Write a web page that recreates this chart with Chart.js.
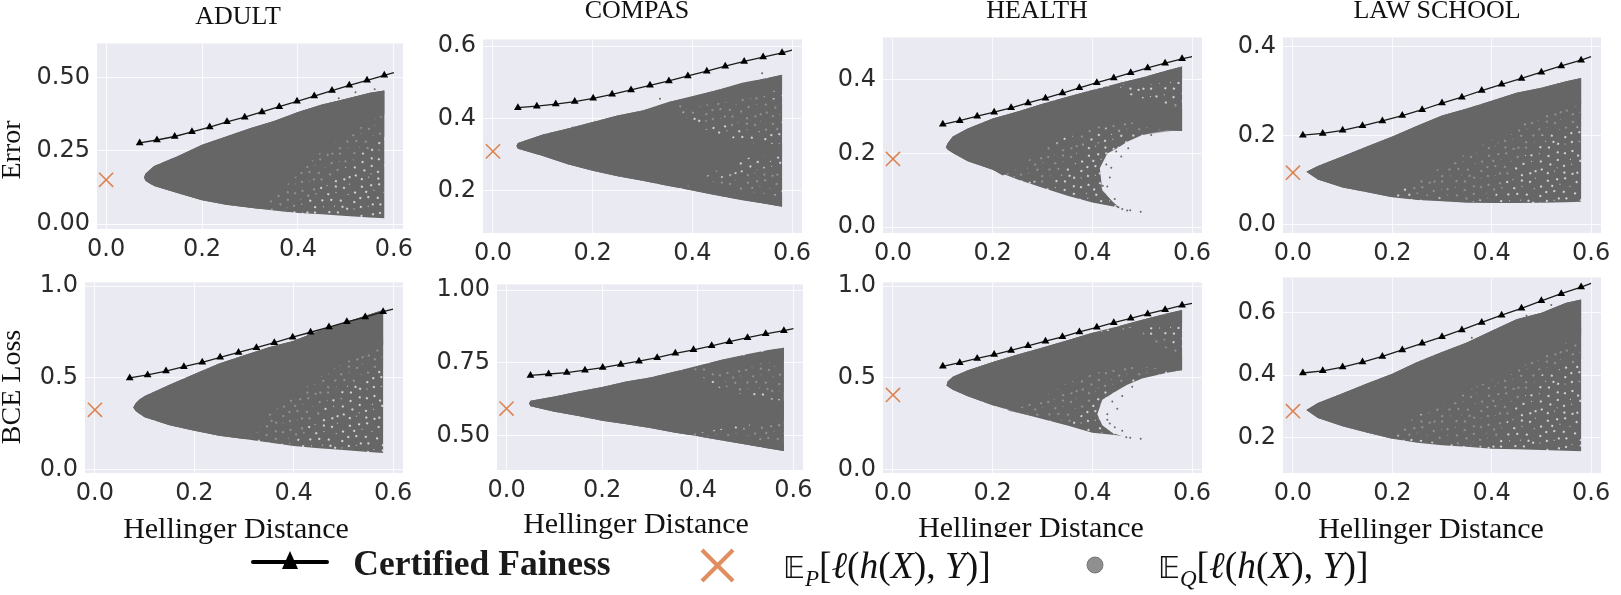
<!DOCTYPE html>
<html>
<head>
<meta charset="utf-8">
<script src="https://cdn.jsdelivr.net/npm/chart.js@4/dist/chart.umd.min.js"></script>
<style>
  html, body { margin: 0; padding: 0; background: #fff; }
  #page { position: relative; width: 1621px; height: 595px; overflow: hidden; }
  canvas { position: absolute; filter: blur(0.4px); }
  .txt { position: absolute; white-space: nowrap; font-family: "Liberation Serif", serif; color: #111; transform: translate(-50%, -50%); }
  .rot { transform: translate(-50%, -50%) rotate(-90deg); }
  .clip { transform: translateX(-50%); overflow: hidden; }
  .math { font-family: "Liberation Serif", serif; font-size: 37.5px; transform: translateY(-50%); color: #111; }
  .math i { font-style: italic; }
  .math sub { font-size: 23px; font-style: italic; line-height: 0; }
  .bb { font-family: "DejaVu Sans", sans-serif; font-size: 30px; }
  svg { position: absolute; overflow: visible; }
</style>
</head>
<body>
<div id="page"></div>
<script>
// Hellinger distance of the certified curve markers (last entry is the line end)
const adultCertX = [.07, .106, .143, .179, .216, .252, .289, .325, .361, .398, .434, .471, .507, .544, .58, .6];
const compasCertX = [.05, .088, .126, .164, .201, .239, .277, .315, .353, .391, .429, .466, .504, .542, .58, .6];
const healthCertX = [.1, .134, .169, .203, .237, .271, .306, .34, .374, .409, .443, .477, .511, .546, .58, .6];
const lawCertX = [.02, .06, .1, .14, .18, .22, .26, .3, .34, .38, .42, .46, .5, .54, .58, .6];

// Certified fairness bound, top row (Error)
const adultErrCert = [.277, .287, .299, .315, .331, .349, .365, .383, .401, .419, .437, .456, .474, .491, .508, .517];
const compasErrCert = [.43, .434, .44, .447, .456, .467, .479, .492, .504, .518, .531, .545, .558, .57, .582, .589];
const healthErrCert = [.279, .289, .301, .312, .324, .337, .35, .364, .378, .392, .405, .419, .432, .445, .457, .463];
const lawErrCert = [.201, .205, .212, .222, .233, .245, .258, .273, .286, .301, .315, .328, .342, .356, .369, .377];

// Certified fairness bound, bottom row (BCE Loss)
const adultBceCert = [.499, .515, .536, .56, .584, .611, .638, .664, .691, .721, .748, .776, .805, .831, .86, .874];
const compasBceCert = [.707, .712, .717, .725, .734, .745, .756, .768, .783, .795, .809, .823, .837, .85, .861, .868];
const healthBceCert = [.562, .582, .605, .626, .649, .674, .699, .723, .75, .775, .8, .824, .848, .871, .895, .906];
const lawBceCert = [.407, .414, .426, .442, .46, .481, .502, .523, .545, .569, .592, .614, .638, .661, .682, .694];

// E_P loss at distance 0 (the orange cross)
const crossValues = [.151, .309, .185, .117, .325, .593, .406, .285];

// Outline of each E_Q cloud as [distance, value]
const adultErrCloud = [[.079,.159],[.082,.172],[.09,.184],[.1,.198],[.15,.232],[.2,.271],[.25,.299],[.3,.327],[.35,.352],[.4,.383],[.45,.408],[.5,.428],[.55,.448],[.58,.456],[.58,.02],[.55,.022],[.5,.027],[.45,.033],[.4,.038],[.35,.047],[.3,.056],[.25,.066],[.2,.081],[.15,.105],[.1,.13],[.09,.139],[.082,.148]];
const compasErrCloud = [[.047,.324],[.05,.332],[.1,.356],[.15,.372],[.2,.39],[.25,.408],[.3,.422],[.35,.445],[.4,.46],[.45,.479],[.5,.499],[.55,.512],[.58,.521],[.58,.156],[.55,.163],[.5,.174],[.45,.187],[.4,.201],[.35,.214],[.3,.228],[.25,.24],[.2,.255],[.15,.273],[.1,.296],[.05,.316]];
const healthErrCloud = [[.106,.217],[.11,.228],[.12,.246],[.15,.268],[.2,.295],[.25,.314],[.3,.335],[.35,.354],[.4,.372],[.45,.39],[.5,.406],[.55,.426],[.58,.436],[.58,.261],[.55,.263],[.52,.256],[.5,.25],[.47,.232],[.45,.214],[.43,.2],[.415,.16],[.42,.1],[.44,.07],[.455,.052],[.45,.054],[.4,.067],[.35,.085],[.3,.107],[.25,.129],[.2,.156],[.15,.179],[.12,.201],[.11,.21]];
const lawErrCloud = [[.027,.119],[.05,.132],[.1,.154],[.15,.176],[.2,.198],[.25,.222],[.3,.245],[.35,.261],[.4,.278],[.45,.296],[.5,.307],[.55,.322],[.58,.329],[.58,.052],[.55,.051],[.5,.05],[.45,.049],[.4,.049],[.35,.05],[.3,.053],[.25,.056],[.2,.062],[.15,.073],[.1,.084],[.05,.102]];
const adultBceCloud = [[.077,.337],[.082,.36],[.09,.382],[.1,.4],[.15,.462],[.2,.52],[.25,.577],[.3,.622],[.35,.666],[.4,.702],[.45,.755],[.5,.799],[.55,.844],[.58,.87],[.58,.089],[.55,.094],[.5,.105],[.45,.115],[.4,.128],[.35,.147],[.3,.165],[.25,.183],[.2,.21],[.15,.24],[.1,.284],[.09,.302],[.082,.318]];
const compasBceCloud = [[.047,.611],[.05,.62],[.1,.635],[.15,.652],[.2,.667],[.25,.686],[.3,.7],[.35,.72],[.4,.74],[.45,.761],[.5,.779],[.55,.795],[.58,.802],[.58,.447],[.55,.455],[.5,.47],[.45,.483],[.4,.498],[.35,.511],[.3,.526],[.25,.539],[.2,.551],[.15,.568],[.1,.582],[.05,.601]];
const healthBceCloud = [[.107,.457],[.11,.48],[.12,.505],[.15,.541],[.2,.585],[.25,.626],[.3,.665],[.35,.704],[.4,.745],[.45,.78],[.5,.816],[.55,.851],[.58,.869],[.58,.541],[.55,.527],[.5,.496],[.47,.461],[.45,.43],[.42,.38],[.41,.3],[.42,.24],[.44,.2],[.46,.18],[.45,.186],[.4,.199],[.35,.239],[.3,.275],[.25,.31],[.2,.349],[.15,.399],[.12,.434]];
const lawBceCloud = [[.027,.289],[.05,.311],[.1,.342],[.15,.374],[.2,.405],[.25,.442],[.3,.474],[.35,.505],[.4,.542],[.45,.579],[.5,.6],[.55,.632],[.58,.642],[.58,.157],[.55,.158],[.5,.161],[.45,.163],[.4,.165],[.35,.171],[.3,.176],[.25,.184],[.2,.197],[.15,.216],[.1,.237],[.05,.263]];

// Outline of the parts where the points merge into solid grey
const adultErrCore = [[.079,.159],[.082,.172],[.09,.184],[.1,.198],[.15,.232],[.2,.271],[.25,.299],[.3,.327],[.35,.352],[.4,.383],[.45,.408],[.5,.428],[.55,.448],[.58,.456],[.58,.375],[.55,.35],[.5,.3],[.45,.25],[.4,.17],[.35,.09],[.32,.052],[.3,.056],[.25,.066],[.2,.081],[.15,.105],[.1,.13],[.09,.139],[.082,.148]];
const compasErrCore = [[.047,.324],[.05,.332],[.1,.356],[.15,.372],[.2,.39],[.25,.408],[.3,.422],[.35,.44],[.41,.38],[.45,.355],[.5,.34],[.53,.33],[.58,.33],[.58,.295],[.52,.295],[.47,.27],[.42,.235],[.37,.209],[.35,.214],[.3,.228],[.25,.24],[.2,.255],[.15,.273],[.1,.296],[.05,.316]];
const compasErrTop = [[.35,.445],[.45,.479],[.58,.521],[.58,.48],[.5,.46],[.4,.43]];
const compasErrLow = [[.38,.206],[.45,.187],[.58,.156],[.58,.185],[.5,.2],[.42,.225]];
const healthErrCore = [[.106,.217],[.11,.228],[.12,.246],[.15,.268],[.2,.295],[.25,.314],[.3,.335],[.35,.354],[.4,.372],[.45,.385],[.47,.36],[.53,.34],[.58,.32],[.58,.261],[.55,.263],[.5,.28],[.45,.29],[.4,.27],[.35,.25],[.3,.21],[.25,.16],[.22,.14],[.2,.156],[.15,.179],[.12,.201],[.11,.21]];
const healthErrTop = [[.45,.39],[.5,.406],[.58,.436],[.58,.4],[.5,.385]];
const lawErrCore = [[.027,.119],[.05,.132],[.1,.154],[.15,.176],[.2,.198],[.25,.222],[.3,.245],[.35,.261],[.4,.278],[.45,.296],[.5,.307],[.55,.322],[.58,.329],[.58,.27],[.5,.245],[.45,.22],[.4,.19],[.35,.16],[.3,.13],[.25,.1],[.2,.075],[.2,.062],[.15,.073],[.1,.084],[.05,.102]];
const adultBceCore = [[.077,.337],[.082,.36],[.09,.382],[.1,.4],[.15,.462],[.2,.52],[.25,.577],[.3,.622],[.35,.666],[.4,.702],[.45,.755],[.5,.799],[.55,.844],[.58,.87],[.58,.68],[.55,.64],[.5,.58],[.45,.5],[.4,.4],[.35,.3],[.32,.2],[.3,.165],[.25,.183],[.2,.21],[.15,.24],[.1,.284],[.09,.302],[.082,.318]];
const compasBceCore = [[.047,.611],[.05,.62],[.1,.635],[.15,.652],[.2,.667],[.25,.686],[.3,.7],[.35,.72],[.38,.73],[.45,.66],[.52,.63],[.58,.62],[.58,.55],[.5,.54],[.44,.52],[.38,.503],[.35,.511],[.3,.526],[.25,.539],[.2,.551],[.15,.568],[.1,.582],[.05,.601]];
const compasBceTop = [[.38,.73],[.45,.761],[.58,.802],[.58,.76],[.5,.74]];
const compasBceLow = [[.4,.498],[.5,.47],[.58,.447],[.58,.47],[.48,.5]];
const healthBceCore = [[.107,.457],[.11,.48],[.12,.505],[.15,.541],[.2,.585],[.25,.626],[.3,.665],[.35,.704],[.4,.745],[.45,.76],[.5,.74],[.53,.68],[.58,.62],[.58,.541],[.5,.56],[.45,.56],[.4,.52],[.35,.47],[.3,.39],[.25,.33],[.2,.349],[.15,.399],[.12,.434]];
const healthBceTop = [[.45,.78],[.5,.816],[.58,.869],[.58,.8],[.5,.77]];
const lawBceCore = [[.027,.289],[.05,.311],[.1,.342],[.15,.374],[.2,.405],[.25,.442],[.3,.474],[.35,.505],[.4,.542],[.45,.579],[.5,.6],[.55,.632],[.58,.642],[.58,.53],[.5,.46],[.45,.42],[.4,.385],[.35,.35],[.3,.31],[.25,.27],[.2,.22],[.2,.197],[.15,.216],[.1,.237],[.05,.263]];

// Belts between core and loose part, where only a few gaps are left
const adultErrMid = [[.3,.327],[.58,.456],[.58,.3],[.5,.2],[.45,.14],[.4,.06],[.38,.04],[.3,.056]];
const compasErrMidTop = [[.33,.43],[.41,.45],[.5,.47],[.58,.45],[.58,.36],[.5,.37],[.45,.39],[.41,.41]];
const compasErrMidLow = [[.38,.21],[.42,.2],[.5,.18],[.58,.2],[.58,.27],[.52,.26],[.47,.24]];
const healthErrMid = [[.2,.156],[.25,.135],[.3,.12],[.33,.14],[.38,.22],[.42,.27],[.5,.25],[.58,.265],[.58,.33],[.47,.34],[.45,.29],[.4,.27],[.3,.21]];
const lawErrMid = [[.2,.09],[.3,.06],[.4,.055],[.45,.14],[.5,.2],[.58,.22],[.58,.28],[.45,.23],[.3,.14]];
const adultBceMid = [[.3,.17],[.4,.14],[.45,.3],[.5,.45],[.58,.55],[.58,.72],[.45,.55],[.4,.45],[.35,.3]];
const compasBceMidTop = [[.36,.72],[.5,.77],[.58,.79],[.58,.65],[.5,.65],[.45,.68]];
const compasBceMidLow = [[.38,.505],[.48,.485],[.58,.46],[.58,.54],[.5,.53],[.44,.515]];
const healthBceMid = [[.23,.32],[.3,.28],[.35,.24],[.38,.3],[.42,.43],[.5,.51],[.58,.55],[.58,.65],[.5,.75],[.45,.6],[.4,.53],[.3,.4]];
const lawBceMid = [[.2,.21],[.3,.18],[.4,.17],[.45,.3],[.5,.4],[.58,.45],[.58,.55],[.45,.43],[.3,.32]];

// Lone points that sit outside the outlines
const healthErrStray = [[.497,.042],[.476,.046],[.47,.045],[.46,.049],[.428,.17],[.438,.161],[.458,.192],[.472,.214],[.502,.254],[.518,.25],[.421,.112],[.425,.089],[.445,.076],[.452,.054],[.435,.135],[.43,.11],[.448,.205]];
const healthBceStray = [[.497,.167],[.476,.172],[.468,.175],[.46,.4],[.48,.45],[.45,.33],[.43,.3],[.435,.25],[.445,.23],[.44,.37],[.43,.27],[.46,.21]];
const adultErrStray = [[.485,.43],[.52,.45],[.56,.46]];
const compasErrStray = [[.335,.455],[.16,.375],[.54,.525]];
const lawBceStray = [[.36,.52],[.47,.59],[.52,.625]];

// Tick labels
const xTicks = [0, .2, .4, .6];
const adultErrTicks = [0, .25, .5];
const compasErrTicks = [.2, .4, .6];
const healthErrTicks = [0, .2, .4];
const lawErrTicks = [0, .2, .4];
const adultBceTicks = [0, .5, 1];
const compasBceTicks = [.5, .75, 1];
const healthBceTicks = [0, .5, 1];
const lawBceTicks = [.2, .4, .6];

const titles = ['ADULT', 'COMPAS', 'HEALTH', 'LAW SCHOOL'];
const rowLabels = ['Error', 'BCE Loss'];
const xLabel = 'Hellinger Distance';

const page = document.getElementById('page');
const MARGIN_L = 90, MARGIN_T = 18, MARGIN_R = 26, MARGIN_B = 45;

// speckle used for the loose part of a cloud, so the background shows through
function speckle() {
  const tile = document.createElement('canvas');
  tile.width = 64; tile.height = 64;
  const c = tile.getContext('2d');
  c.fillStyle = '#666666';
  c.fillRect(0, 0, 64, 64);
  const holes = [[3,5,2],[9,1,1],[14,7,2],[21,3,2],[29,9,1],[33,2,2],[41,6,2],[48,1,1],[55,8,2],[60,4,2],
    [6,12,2],[12,15,2],[19,11,1],[25,16,2],[36,13,2],[44,17,2],[51,12,2],[58,15,1],
    [2,20,2],[9,23,2],[16,19,2],[23,24,2],[30,21,2],[38,25,1],[46,22,2],[54,20,2],[61,25,1],
    [5,29,2],[13,31,2],[20,28,1],[27,33,2],[33,29,2],[42,32,2],[49,28,1],[56,33,2],
    [1,38,2],[8,36,1],[17,39,2],[24,41,2],[31,37,1],[39,40,2],[47,36,2],[53,41,1],[60,38,2],
    [4,46,2],[11,44,2],[19,48,1],[28,45,2],[35,49,2],[43,46,1],[50,48,2],[58,45,2],
    [7,53,2],[15,56,2],[22,52,1],[30,57,2],[37,54,2],[45,59,2],[52,55,1],[61,53,2],
    [2,60,2],[10,61,1],[18,62,2],[26,60,2],[40,62,1],[56,61,2]];
  c.fillStyle = '#d2d2da';
  holes.forEach(h => c.fillRect(h[0], h[1], h[2], h[2]));
  const pat = c.createPattern(tile, 'repeat');
  pat.setTransform(new DOMMatrix().rotate(23));
  return pat;
}

const plotBg = {
  id: 'plotBg',
  beforeDraw(chart) {
    const { ctx, chartArea: a } = chart;
    ctx.save();
    ctx.fillStyle = '#eaeaf2';
    ctx.fillRect(a.left, a.top, a.right - a.left, a.bottom - a.top);
    ctx.restore();
  }
};

function toPoints(pairs) {
  return pairs.map(p => ({ x: p[0], y: p[1] }));
}

function shape(pairs, colour) {
  return {
    data: toPoints(pairs), showLine: true, fill: 'shape', backgroundColor: colour,
    borderWidth: 0, pointRadius: 0
  };
}

function makePanel(p) {
  const w = p.box[2] - p.box[0], h = p.box[3] - p.box[1];
  const canvas = document.createElement('canvas');
  canvas.width = w + MARGIN_L + MARGIN_R;
  canvas.height = h + MARGIN_T + MARGIN_B;
  canvas.style.left = (p.box[0] - MARGIN_L) + 'px';
  canvas.style.top = (p.box[1] - MARGIN_T) + 'px';
  page.appendChild(canvas);

  const tickFont = { family: '"DejaVu Sans", sans-serif', size: 24 };
  new Chart(canvas.getContext('2d'), {
    type: 'scatter',
    data: {
      datasets: [
        // the first dataset is drawn last
        {
          data: p.certX.map((x, i) => ({ x: x, y: p.cert[i] })),
          showLine: true, borderColor: '#1c1c1c', borderWidth: 1.3,
          backgroundColor: '#000', pointStyle: 'triangle',
          pointRadius: ctx => ctx.dataIndex === p.certX.length - 1 ? 0 : 4.5, pointBorderWidth: 0
        },
        {
          data: [{ x: 0, y: p.cross }], pointStyle: 'crossRot', pointRadius: 10,
          borderColor: '#dd8452', pointBorderWidth: 1.6, backgroundColor: '#dd8452'
        },
        { data: toPoints(p.stray || []), pointRadius: 1, backgroundColor: '#686868', pointBorderWidth: 0 },
        ...p.cores.map(c => shape(c, '#666666')),
        ...p.mids.map(c => shape(c, 'rgba(102,102,102,0.6)')),
        shape(p.cloud, speckle())
      ]
    },
    plugins: [plotBg],
    options: {
      responsive: false,
      animation: false,
      layout: { padding: { top: MARGIN_T, right: MARGIN_R, left: 0, bottom: 0 } },
      plugins: { legend: { display: false }, tooltip: { enabled: false } },
      scales: {
        x: {
          type: 'linear', min: p.xRange[0], max: p.xRange[1],
          afterFit: s => { s.height = MARGIN_B; },
          afterBuildTicks: s => { s.ticks = xTicks.map(v => ({ value: v })); },
          grid: { color: 'rgba(255,255,255,0.8)', lineWidth: 1, drawTicks: false },
          border: { display: false },
          ticks: {
            font: tickFont, color: '#2b2b2b', padding: 6, maxRotation: 0,
            callback: v => v.toFixed(1)
          }
        },
        y: {
          type: 'linear', min: p.yRange[0], max: p.yRange[1],
          afterFit: s => { s.width = MARGIN_L; },
          afterBuildTicks: s => { s.ticks = p.ticks.map(v => ({ value: v })); },
          grid: { color: 'rgba(255,255,255,0.8)', lineWidth: 1, drawTicks: false },
          border: { display: false },
          ticks: {
            font: tickFont, color: '#2b2b2b', padding: 7,
            callback: v => v.toFixed(p.decimals)
          }
        }
      }
    }
  });
}

const panels = [
  { box: [97, 40, 403, 229], xRange: [-.019, .619], yRange: [-.017, .617], ticks: adultErrTicks, decimals: 2, certX: adultCertX, cert: adultErrCert, cross: crossValues[0], cloud: adultErrCloud, cores: [adultErrCore], mids: [adultErrMid], stray: adultErrStray },
  { box: [483, 36, 802, 233], xRange: [-.02, .62], yRange: [.083, .619], ticks: compasErrTicks, decimals: 1, certX: compasCertX, cert: compasErrCert, cross: crossValues[1], cloud: compasErrCloud, cores: [compasErrCore, compasErrTop, compasErrLow], mids: [compasErrMidTop, compasErrMidLow], stray: compasErrStray },
  { box: [883, 34, 1202, 233], xRange: [-.02, .62], yRange: [-.016, .515], ticks: healthErrTicks, decimals: 1, certX: healthCertX, cert: healthErrCert, cross: crossValues[2], cloud: healthErrCloud, cores: [healthErrCore, healthErrTop], mids: [healthErrMid], stray: healthErrStray },
  { box: [1283, 34, 1601, 233], xRange: [-.02, .62], yRange: [-.018, .42], ticks: lawErrTicks, decimals: 1, certX: lawCertX, cert: lawErrCert, cross: crossValues[3], cloud: lawErrCloud, cores: [lawErrCore], mids: [lawErrMid] },
  { box: [85, 279, 403, 473], xRange: [-.02, .62], yRange: [-.02, 1.02], ticks: adultBceTicks, decimals: 1, certX: adultCertX, cert: adultBceCert, cross: crossValues[4], cloud: adultBceCloud, cores: [adultBceCore], mids: [adultBceMid] },
  { box: [497, 281, 803, 470], xRange: [-.02, .62], yRange: [.382, 1.02], ticks: compasBceTicks, decimals: 2, certX: compasCertX, cert: compasBceCert, cross: crossValues[5], cloud: compasBceCloud, cores: [compasBceCore, compasBceTop, compasBceLow], mids: [compasBceMidTop, compasBceMidLow] },
  { box: [883, 279, 1202, 473], xRange: [-.02, .62], yRange: [-.02, 1.02], ticks: healthBceTicks, decimals: 1, certX: healthCertX, cert: healthBceCert, cross: crossValues[6], cloud: healthBceCloud, cores: [healthBceCore, healthBceTop], mids: [healthBceMid], stray: healthBceStray },
  { box: [1283, 274, 1601, 473], xRange: [-.02, .62], yRange: [.087, .713], ticks: lawBceTicks, decimals: 1, certX: lawCertX, cert: lawBceCert, cross: crossValues[7], cloud: lawBceCloud, cores: [lawBceCore], mids: [lawBceMid], stray: lawBceStray }
];
panels.forEach(makePanel);

function addText(html, x, y, size, cls) {
  const d = document.createElement('div');
  d.className = 'txt ' + (cls || '');
  d.style.left = x + 'px';
  d.style.top = y + 'px';
  d.style.fontSize = size + 'px';
  d.innerHTML = html;
  page.appendChild(d);
  return d;
}

// column titles and axis names
[[238, 16], [637, 10], [1037, 10], [1437, 10]].forEach((pos, i) => addText(titles[i], pos[0], pos[1], 26));
addText(rowLabels[0], 11, 150, 28, 'rot');
addText(rowLabels[1], 11, 387, 28, 'rot');
addText(xLabel, 236, 528, 30);
addText(xLabel, 636, 523, 30);
addText(xLabel, 1431, 528, 30);
// this one is cut by the legend strip in the picture
const cutLabel = addText(xLabel, 1031, 510, 30, 'clip');
cutLabel.style.height = '27px';

// legend
page.insertAdjacentHTML('beforeend', `
  <svg style="left:0;top:0" width="1621" height="595">
    <line x1="253" y1="562" x2="327" y2="562" stroke="#000" stroke-width="4" stroke-linecap="round"/>
    <polygon points="290,551 282,569 298,569" fill="#000"/>
    <line x1="702" y1="550" x2="733" y2="581" stroke="#e08d5f" stroke-width="4"/>
    <line x1="733" y1="550" x2="702" y2="581" stroke="#e08d5f" stroke-width="4"/>
    <circle cx="1095" cy="565" r="8" fill="#8f8f8f" stroke="#777" stroke-width="1"/>
  </svg>`);
const certLabel = addText('Certified Fainess', 482, 563, 35.5);
certLabel.style.fontWeight = 'bold';
certLabel.style.color = '#1a1a1a';
const lossText = '[<i>ℓ</i>(<i>h</i>(<i>X</i>), <i>Y</i>)]';
[['P', 783], ['Q', 1158]].forEach(e => {
  const d = document.createElement('div');
  d.className = 'txt math';
  d.style.left = e[1] + 'px';
  d.style.top = '565px';
  d.innerHTML = '<span class="bb">𝔼</span><sub>' + e[0] + '</sub>' + lossText;
  page.appendChild(d);
});
</script>
</body>
</html>
